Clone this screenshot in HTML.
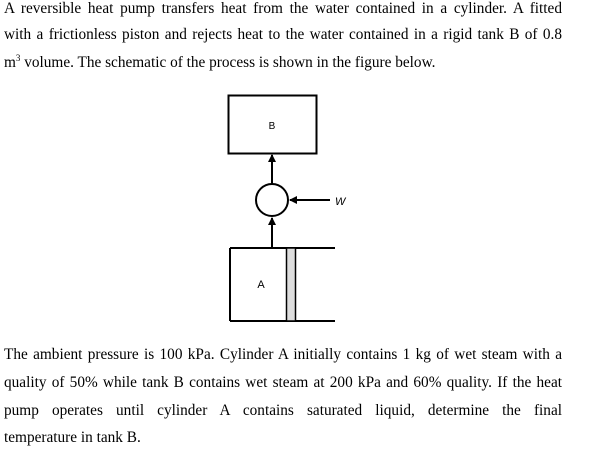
<!DOCTYPE html>
<html><head><style>
body{margin:0;width:616px;height:458px;background:#fff;position:relative;overflow:hidden;font-family:"Liberation Serif",serif;font-size:15.3px;color:#000}
.l{position:absolute;left:4px;width:558px;line-height:17px;white-space:nowrap}
.j{text-align:justify;text-align-last:justify;white-space:normal}
</style></head><body>
<div class="l j" style="top:0px">A reversible heat pump transfers heat from the water contained in a cylinder. A fitted</div>
<div class="l j" style="top:26px">with a frictionless piston and rejects heat to the water contained in a rigid tank B of 0.8</div>
<div class="l" style="top:54px">m<sup style="font-size:9px;line-height:0">3</sup> volume. The schematic of the process is shown in the figure below.</div>
<svg style="position:absolute;left:0;top:0" width="616" height="458">
<defs><marker id="a" markerWidth="8" markerHeight="8" refX="7" refY="4" orient="auto" markerUnits="userSpaceOnUse"><path d="M0,0 L8,4 L0,8 Z" fill="#000"/></marker></defs>
<rect x="228.5" y="95.5" width="88" height="58" fill="none" stroke="#000" stroke-width="2"/>
<text x="272" y="129" font-family="Liberation Sans" font-size="10" text-anchor="middle">B</text>
<circle cx="272" cy="200" r="16" fill="none" stroke="#000" stroke-width="2"/>
<line x1="272" y1="184" x2="272" y2="155" stroke="#000" stroke-width="2" marker-end="url(#a)"/>
<line x1="272" y1="248" x2="272" y2="218" stroke="#000" stroke-width="2" marker-end="url(#a)"/>
<line x1="330" y1="200" x2="290" y2="200" stroke="#000" stroke-width="2" marker-end="url(#a)"/>
<text x="335" y="205" font-family="Liberation Sans" font-style="italic" font-size="11">W</text>
<line x1="230" y1="248" x2="335" y2="248" stroke="#000" stroke-width="2"/>
<line x1="230" y1="321" x2="335" y2="321" stroke="#000" stroke-width="2"/>
<line x1="230" y1="248" x2="230" y2="321" stroke="#000" stroke-width="2"/>
<rect x="286.5" y="248" width="9" height="73" fill="#ddd" stroke="#000" stroke-width="1.5"/>
<text x="261" y="288" font-family="Liberation Sans" font-size="11" text-anchor="middle">A</text>
</svg>
<div class="l j" style="top:346px">The ambient pressure is 100 kPa. Cylinder A initially contains 1 kg of wet steam with a</div>
<div class="l j" style="top:374px">quality of 50% while tank B contains wet steam at 200 kPa and 60% quality. If the heat</div>
<div class="l j" style="top:402px">pump operates until cylinder A contains saturated liquid, determine the final</div>
<div class="l" style="top:429px">temperature in tank B.</div>
</body></html>
